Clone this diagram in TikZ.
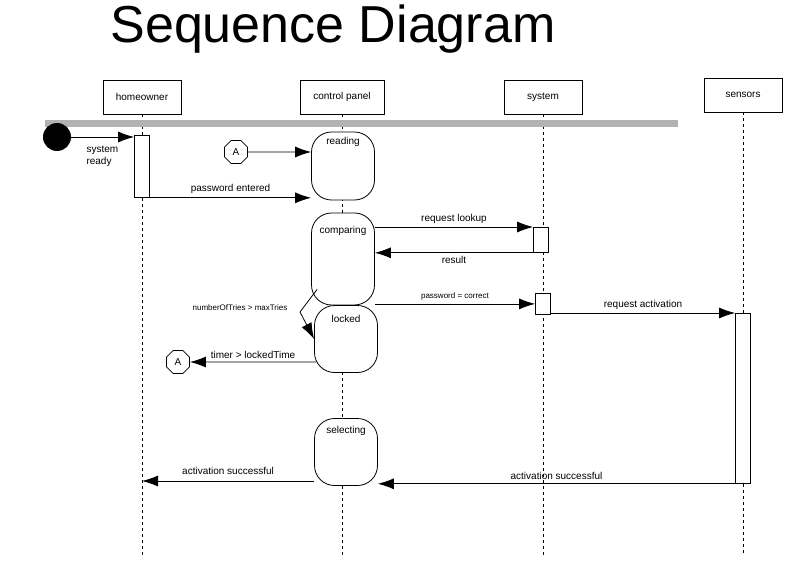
\documentclass[tikz,border=0pt]{standalone}
\usepackage{fontspec}
\setmainfont{Liberation Sans}
\usetikzlibrary{arrows.meta,shapes.geometric}
\tikzset{
  obj/.style={draw, thick, minimum width=78pt, minimum height=34pt, font=\normalsize},
  life/.style={dashed, thick},
  act/.style={draw, thick, fill=white, minimum width=15pt, anchor=north},
  state/.style={draw, thick, fill=white, rounded corners=20pt, minimum width=63pt},
  conn/.style={draw, thick, regular polygon, regular polygon sides=8, inner sep=1pt, minimum size=25pt, font=\normalsize},
  msg/.style={thick, -{Latex[length=16pt,width=11pt]}},
  lbl/.style={font=\normalsize}
}
\begin{document}
\begin{tikzpicture}[x=1pt,y=-1pt]
    \useasboundingbox (0,0) rectangle (806,583);
    \node[font=\fontsize{52}{56}\selectfont] (title) at (333,29) {Sequence Diagram};

    \node[obj] (home) at (142,97) {homeowner};
    \node[obj, minimum width=84pt] (panel) at (342,97) {control panel};
    \node[obj] (sys) at (543,97) {system};
    \node[obj] (sens) at (743,95) {sensors};

    \coordinate (homeend) at (142,555);
    \coordinate (panelend) at (342,555);
    \coordinate (sysend) at (543,555);
    \coordinate (sensend) at (743,555);
    \draw[life] (home) -- (homeend);
    \draw[life] (panel) -- (panelend);
    \draw[life] (sys) -- (sysend);
    \draw[life] (sens) -- (sensend);

    \coordinate (barl) at (45,124);
    \coordinate (barr) at (678,124);
    \draw[line width=7pt, gray!60] (barl) -- (barr);

    % activations
    \node[act, minimum height=62pt] (ah) at (142,135) {};
    \node[act, minimum height=25pt] (as1) at (541,227) {};
    \node[act, minimum height=21pt] (as2) at (543,293) {};
    \node[act, minimum height=170pt] (asens) at (743,313) {};

    % states
    \node[state, minimum height=68pt] (reading) at (343,166) {};
    \node[state, minimum height=92pt] (comparing) at (343,259) {};
    \node[state, minimum height=67pt] (locked) at (346,339) {};
    \node[state, minimum height=67pt] (selecting) at (346,452) {};
    \node[lbl, below=2pt] at (reading.north) {reading};
    \node[lbl, below=10pt] at (comparing.north) {comparing};
    \node[lbl, below=7pt] at (locked.north) {locked};
    \node[lbl, below=5pt] at (selecting.north) {selecting};

    \node[circle, fill=black, minimum size=28pt, inner sep=0pt] (start) at (57,137) {};
    \node[conn] (a1) at (236,152) {A};
    \node[conn] (a2) at (178,362) {A};

    \draw[msg] (start) -- (ah.north west |- start);
    \node[lbl, align=left, anchor=north west] at (83,143) {system\\ready};
    \draw[msg] (a1) -- (reading.west |- a1);
    \draw[msg] (ah.south east) -- node[lbl, above] {password entered} (reading.west |- ah.south east);

    \draw[msg] (comparing.east |- as1.north) -- node[lbl, above] {request  lookup} (as1.north west);
    \draw[msg] (as1.south west) -- node[lbl, below] {result} (comparing.east |- as1.south);
    \draw[msg] (comparing.east |- as2.center) -- node[lbl, above, font=\footnotesize] {password = correct} (as2.west);
    \draw[msg] (as2.east |- asens.north) -- node[lbl, above] {request  activation} (asens.north west);

    \coordinate (bend) at (300,312);
    \draw[msg] (comparing.south west) ++(6,-16) -- (bend) -- (locked.west);
    \node[lbl, font=\footnotesize] at (240,308) {numberOfTries  >  maxTries};
    \draw[msg] (locked.west |- a2) ++(2,0) -- node[lbl, above] {timer >  lockedTime} (a2);

    \draw[msg] (asens.south west) -- node[lbl, above] {activation successful} (selecting.east |- asens.south);
    \draw[msg] (selecting.west |- 0,481) -- node[lbl, above=3pt] {activation successful} (ah.south |- 0,481);
\end{tikzpicture}
\end{document}
